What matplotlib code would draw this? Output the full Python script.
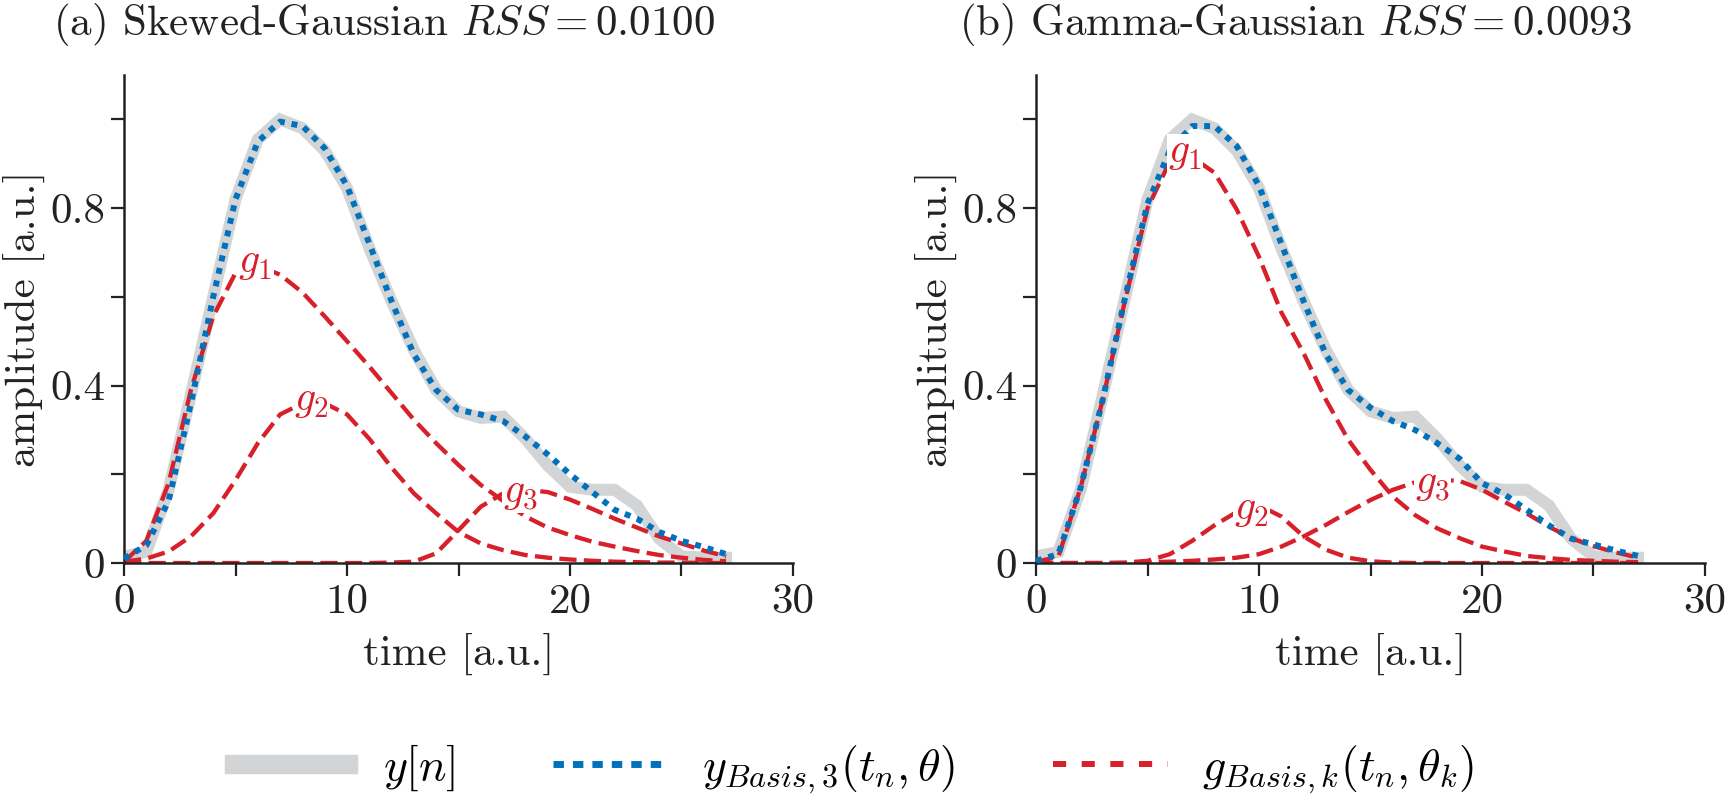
import numpy as np
import matplotlib
matplotlib.use("Agg")
import matplotlib.pyplot as plt
from matplotlib.lines import Line2D

plt.rcParams['font.family'] = 'serif'
plt.rcParams['font.serif'] = ['cmr10']
plt.rcParams['mathtext.fontset'] = 'cm'
plt.rcParams['axes.unicode_minus'] = False
plt.rcParams['axes.formatter.use_mathtext'] = True

# --- data ---
t = np.arange(28)

y_meas = [0.015, 0.025, 0.165, 0.38, 0.60, 0.82, 0.955, 1.0, 0.98, 0.93,
          0.845, 0.71, 0.59, 0.48, 0.39, 0.342, 0.327, 0.33, 0.28, 0.22,
          0.172, 0.165, 0.165, 0.13, 0.055, 0.015, 0.012, 0.012]

# (a) skewed-Gaussian basis
fit_a = [0.01, 0.04, 0.14, 0.36, 0.60, 0.82, 0.95, 0.995, 0.985, 0.935,
         0.85, 0.72, 0.59, 0.47, 0.39, 0.345, 0.335, 0.32, 0.285, 0.245,
         0.2, 0.16, 0.12, 0.1, 0.07, 0.05, 0.036, 0.02]
g1_a = [0.003, 0.05, 0.18, 0.39, 0.556, 0.654, 0.67, 0.65, 0.61, 0.556,
        0.5, 0.443, 0.383, 0.323, 0.27, 0.221, 0.176, 0.14, 0.105, 0.08,
        0.063, 0.048, 0.037, 0.027, 0.018, 0.012, 0.007, 0.004]
g2_a = [0.003, 0.01, 0.026, 0.06, 0.112, 0.187, 0.27, 0.335, 0.36, 0.36,
        0.335, 0.28, 0.215, 0.157, 0.112, 0.07, 0.044, 0.029, 0.018, 0.012,
        0.008, 0.005, 0.003, 0.002, 0.001, 0.001, 0.0, 0.0]
g3_a = [0.0, 0.0, 0.0, 0.0, 0.0, 0.0, 0.0, 0.0, 0.0, 0.0,
        0.0, 0.0, 0.001, 0.003, 0.022, 0.074, 0.127, 0.157, 0.165, 0.16,
        0.143, 0.122, 0.1, 0.08, 0.06, 0.044, 0.028, 0.015]

# (b) gamma-Gaussian basis
fit_b = [0.005, 0.02, 0.17, 0.37, 0.60, 0.81, 0.93, 0.985, 0.985, 0.94,
         0.85, 0.72, 0.59, 0.47, 0.39, 0.35, 0.32, 0.3, 0.27, 0.235,
         0.18, 0.155, 0.12, 0.085, 0.055, 0.042, 0.028, 0.016]
g1_b = [0.003, 0.014, 0.17, 0.37, 0.594, 0.80, 0.905, 0.915, 0.88, 0.797,
        0.69, 0.565, 0.473, 0.368, 0.278, 0.21, 0.15, 0.108, 0.078, 0.056,
        0.037, 0.026, 0.016, 0.011, 0.007, 0.005, 0.003, 0.002]
g2_b = [0.0, 0.0, 0.0, 0.0, 0.001, 0.005, 0.02, 0.05, 0.085, 0.115,
        0.13, 0.105, 0.06, 0.03, 0.012, 0.004, 0.001, 0.0, 0.0, 0.0,
        0.0, 0.0, 0.0, 0.0, 0.0, 0.0, 0.0, 0.0]
g3_b = [0.0, 0.0, 0.0, 0.0, 0.0, 0.002, 0.003, 0.005, 0.008, 0.012,
        0.02, 0.037, 0.06, 0.086, 0.115, 0.142, 0.165, 0.182, 0.188, 0.185,
        0.165, 0.138, 0.112, 0.082, 0.056, 0.038, 0.024, 0.012]

titles = [r'(a) Skewed-Gaussian $RSS = 0.0100$',
          r'(b) Gamma-Gaussian $RSS = 0.0093$']
label_pos_a = [(5.9, 0.655), (8.4, 0.345), (17.8, 0.137)]
label_pos_b = [(6.7, 0.903), (9.65, 0.10), (17.8, 0.158)]

gray = '#d3d4d6'
blue = '#0072bd'
red = '#d7202a'

fig = plt.figure(figsize=(17.25, 8.01), dpi=100)
ax_a = fig.add_axes([0.0719, 0.2971, 0.3878, 0.6092])
ax_b = fig.add_axes([0.6006, 0.2971, 0.3878, 0.6092])

panels = [(ax_a, fit_a, [g1_a, g2_a, g3_a], label_pos_a, titles[0]),
          (ax_b, fit_b, [g1_b, g2_b, g3_b], label_pos_b, titles[1])]

for ax, fit, comps, lpos, title in panels:
    ax.plot(t, y_meas, color=gray, lw=8.6, solid_joinstyle='miter', zorder=1)
    for g in comps:
        ax.plot(t, g, color=red, lw=3.1, linestyle=(0, (4, 1.7)), zorder=2)
    ax.plot(t, fit, color=blue, lw=4.3, linestyle=(0, (1, 1.15)),
            dash_capstyle='butt', zorder=3)
    for k, (xx, yy) in enumerate(lpos):
        ax.text(xx, yy, r'$g_{%d}$' % (k + 1), color=red, fontsize=30,
                ha='center', va='baseline', zorder=4,
                bbox=dict(fc='white', ec='none', pad=0.5))

    ax.set_xlim(0, 30)
    ax.set_ylim(0, 1.1)
    ax.set_xticks([0, 5, 10, 15, 20, 25, 30])
    ax.set_xticklabels(['0', '', '10', '', '20', '', '30'])
    ax.set_yticks([0, 0.2, 0.4, 0.6, 0.8, 1.0])
    ax.set_yticklabels(['0', '', '0.4', '', '0.8', ''])
    ax.tick_params(direction='out', length=9.5, width=1.6, labelsize=31,
                   color='#222222', labelcolor='#222222')
    ax.tick_params(axis='x', pad=5)
    ax.tick_params(axis='y', pad=4)
    for s in ['top', 'right']:
        ax.spines[s].set_visible(False)
    for s in ['left', 'bottom']:
        ax.spines[s].set_linewidth(1.8)
        ax.spines[s].set_color('#222222')

    ax.set_xlabel('time [a.u.]', fontsize=31, color='#222222')
    ax.set_ylabel('amplitude [a.u.]', fontsize=31, color='#222222')
    ax.xaxis.set_label_coords(0.5, -0.143)
    ax.yaxis.set_label_coords(-0.118, 0.5)
    ax.text(0.388, 1.082, title, transform=ax.transAxes, fontsize=31,
            ha='center', va='baseline', color='#222222')

handles = [Line2D([], [], color=gray, lw=14),
           Line2D([], [], color=blue, lw=5, linestyle=(0, (1.5, 1.3)),
                  dash_capstyle='butt'),
           Line2D([], [], color=red, lw=4.3, linestyle=(0, (2.2, 2.6)),
                  dash_capstyle='butt')]
labels = [r'$y[n]$', r'$y_{Basis,3}(t_n,\theta)$', r'$g_{Basis,k}(t_n,\theta_k)$']
fig.legend(handles, labels, loc='center', bbox_to_anchor=(0.495, 0.04),
           ncol=3, frameon=False, fontsize=33, handlelength=2.5,
           handletextpad=0.75, columnspacing=2.15)

fig.savefig('out.png', dpi=100)
